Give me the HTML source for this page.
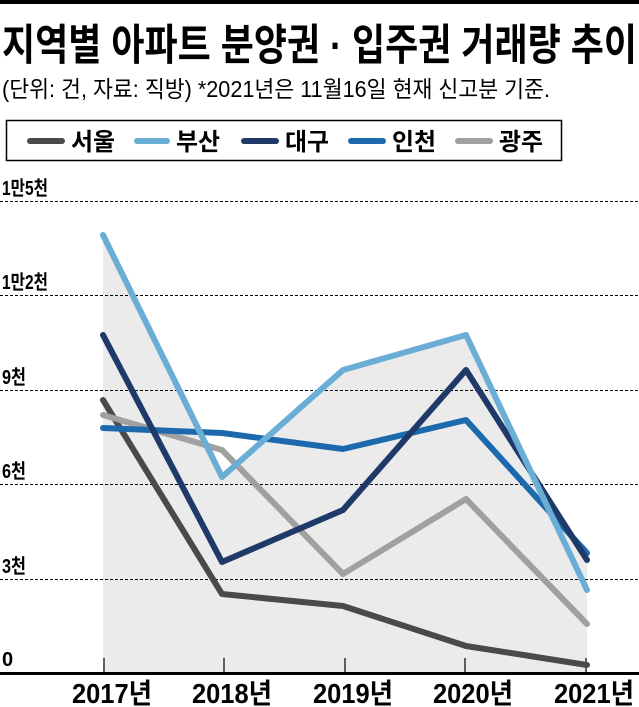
<!DOCTYPE html>
<html><head><meta charset="utf-8"><style>
html,body{margin:0;padding:0;background:#fff;}
svg{display:block;font-family:"Liberation Sans","Noto Sans CJK KR",sans-serif;}
</style></head><body>
<svg width="639" height="707" viewBox="0 0 639 707" xmlns="http://www.w3.org/2000/svg">
<rect x="0" y="0" width="639" height="4" fill="#000"/>
<text x="2" y="60" font-size="43" font-weight="bold" textLength="635" lengthAdjust="spacingAndGlyphs">지역별 아파트 분양권 · 입주권 거래량 추이</text>
<text x="2" y="97" font-size="23" textLength="548" lengthAdjust="spacingAndGlyphs">(단위: 건, 자료: 직방) *2021년은 11월16일 현재 신고분 기준.</text>
<rect x="6.5" y="120.5" width="555" height="40" fill="#fff" stroke="#000" stroke-width="1.5"/>
<g stroke-width="6" stroke-linecap="round">
<line x1="30" y1="141" x2="62" y2="141" stroke="#4a4a4a"/>
<line x1="137" y1="141" x2="167" y2="141" stroke="#6aaed6"/>
<line x1="244" y1="141" x2="276" y2="141" stroke="#1f3a68"/>
<line x1="351" y1="141" x2="383" y2="141" stroke="#1c6aad"/>
<line x1="458" y1="141" x2="490" y2="141" stroke="#a0a0a0"/>
</g>
<g font-size="24" font-weight="bold">
<text x="71" y="150" textLength="44" lengthAdjust="spacingAndGlyphs">서울</text>
<text x="176" y="150" textLength="44" lengthAdjust="spacingAndGlyphs">부산</text>
<text x="285" y="150" textLength="44" lengthAdjust="spacingAndGlyphs">대구</text>
<text x="392" y="150" textLength="44" lengthAdjust="spacingAndGlyphs">인천</text>
<text x="499" y="150" textLength="44" lengthAdjust="spacingAndGlyphs">광주</text>
</g>
<polygon points="103,235 222,477 343,370 466,335 531,473 587,555 587,674 103,674" fill="#ebebeb"/>
<g stroke="#000" stroke-width="1" stroke-dasharray="3,2">
<line x1="0" y1="201.5" x2="639" y2="201.5"/>
<line x1="0" y1="295.5" x2="639" y2="295.5"/>
<line x1="0" y1="390.5" x2="639" y2="390.5"/>
<line x1="0" y1="484.5" x2="639" y2="484.5"/>
<line x1="0" y1="579.5" x2="639" y2="579.5"/>
</g>
<g font-size="20" font-weight="bold">
<text x="2" y="195" textLength="46" lengthAdjust="spacingAndGlyphs">1만5천</text>
<text x="2" y="289" textLength="46" lengthAdjust="spacingAndGlyphs">1만2천</text>
<text x="2" y="384" textLength="24" lengthAdjust="spacingAndGlyphs">9천</text>
<text x="2" y="478" textLength="24" lengthAdjust="spacingAndGlyphs">6천</text>
<text x="2" y="573" textLength="24" lengthAdjust="spacingAndGlyphs">3천</text>
<text x="2" y="666">0</text>
</g>
<g stroke="#000" stroke-width="1.2">
<line x1="104" y1="658" x2="104" y2="674"/>
<line x1="224" y1="658" x2="224" y2="674"/>
<line x1="345" y1="658" x2="345" y2="674"/>
<line x1="465" y1="658" x2="465" y2="674"/>
<line x1="586" y1="658" x2="586" y2="674"/>
</g>
<g fill="none" stroke-width="6" stroke-linejoin="round" stroke-linecap="round">
<polyline points="103,400 222,594 343,606 466,646 587,665" stroke="#4a4a4a"/>
<polyline points="103,415 222,450 343,574 466,499 587,624" stroke="#a0a0a0"/>
<polyline points="103,428 222,433 343,449 466,420 587,553" stroke="#1c6aad"/>
<polyline points="103,335 222,562 343,510 466,370 587,560" stroke="#1f3a68"/>
<polyline points="103,235 222,477 343,370 466,335 587,590" stroke="#6aaed6"/>
</g>
<rect x="0" y="672" width="639" height="3" fill="#000"/>
<g font-size="28" font-weight="bold">
<text x="72" y="703" textLength="80" lengthAdjust="spacingAndGlyphs">2017년</text>
<text x="192" y="703" textLength="80" lengthAdjust="spacingAndGlyphs">2018년</text>
<text x="313" y="703" textLength="80" lengthAdjust="spacingAndGlyphs">2019년</text>
<text x="433" y="703" textLength="80" lengthAdjust="spacingAndGlyphs">2020년</text>
<text x="554" y="703" textLength="80" lengthAdjust="spacingAndGlyphs">2021년</text>
</g>
</svg>
</body></html>
